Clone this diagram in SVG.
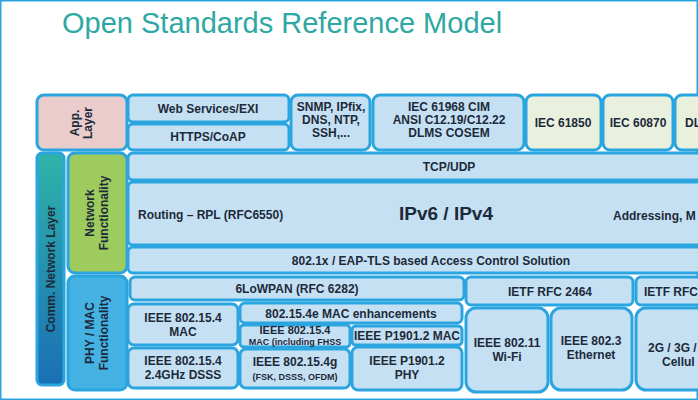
<svg xmlns="http://www.w3.org/2000/svg" width="698" height="400" viewBox="0 0 698 400">
<defs>
<linearGradient id="g1" x1="0" y1="0" x2="0" y2="1"><stop offset="0" stop-color="#2fb3a8"/><stop offset="1" stop-color="#1a6fb5"/></linearGradient>
<style>
rect{stroke:#2aa5df;stroke-width:3}
.b{fill:#c6e0f3}
.t{font-family:"Liberation Sans",Arial,sans-serif;font-weight:bold;fill:#1c2a3a;text-anchor:middle;font-size:12px}
.l{text-anchor:start}
.s{font-size:9px}
.big{font-size:19px}
.m{font-size:11px}
</style>
</defs>
<rect width="698" height="400" fill="#fff" stroke="none"/>
<text x="62" y="33" font-family="'Liberation Sans',Arial,sans-serif" font-size="29" fill="#2ea8a2">Open Standards Reference Model</text>
<g id="app"><rect x="37" y="95" width="90" height="55" rx="7" fill="#e9cccb"/><text class="t" transform="translate(82,123) rotate(-90)"><tspan x="0" y="-3">App.</tspan><tspan x="0" y="10">Layer</tspan></text></g>
<g id="web"><rect class="b" x="128" y="95" width="161" height="27" rx="5"/><text class="t" x="208" y="113">Web Services/EXI</text></g>
<g id="https"><rect class="b" x="128" y="124" width="161" height="26" rx="5"/><text class="t" x="208" y="141">HTTPS/CoAP</text></g>
<g id="snmp"><rect class="b" x="291" y="95" width="79" height="55" rx="7"/><text class="t" x="331" y="111">SNMP, IPfix,<tspan x="331" y="124">DNS, NTP,</tspan><tspan x="331" y="137">SSH,...</tspan></text></g>
<g id="iec61968"><rect class="b" x="373" y="95" width="151" height="55" rx="7"/><text class="t" x="449" y="111">IEC 61968 CIM<tspan x="449" y="124">ANSI C12.19/C12.22</tspan><tspan x="449" y="137">DLMS COSEM</tspan></text></g>
<g id="iec61850"><rect x="526" y="95" width="75" height="55" rx="7" fill="#e9f1de"/><text class="t" x="563" y="127">IEC 61850</text></g>
<g id="iec60870"><rect x="603" y="95" width="70" height="55" rx="7" fill="#e9f1de"/><text class="t" x="638" y="127">IEC 60870</text></g>
<g id="dl"><rect x="675" y="95" width="40" height="55" rx="7" fill="#e9f1de"/><text class="t l" x="685" y="127">DL</text></g>
<g id="comm"><rect x="37" y="153" width="27" height="232" rx="5" fill="url(#g1)"/><text class="t" transform="translate(55,269) rotate(-90)">Comm. Network Layer</text></g>
<g id="netf"><rect x="68" y="153" width="59" height="120" rx="7" fill="#9dcb5e"/><text class="t" transform="translate(97,213) rotate(-90)"><tspan x="0" y="-3">Network</tspan><tspan x="0" y="11">Functionality</tspan></text></g>
<g id="phyf"><rect x="68" y="276" width="59" height="114" rx="7" fill="#45b2e4"/><text class="t" transform="translate(97,333) rotate(-90)"><tspan x="0" y="-3">PHY / MAC</tspan><tspan x="0" y="11">Functionality</tspan></text></g>
<g id="tcp"><rect class="b" x="128" y="153" width="580" height="27" rx="5"/><text class="t" x="449" y="171">TCP/UDP</text></g>
<g id="ip"><rect class="b" x="128" y="182" width="580" height="63" rx="5"/><text class="t l" x="138" y="219">Routing – RPL (RFC6550)</text><text class="t big" x="446" y="220">IPv6 / IPv4</text><text class="t l" x="613" y="220">Addressing, M</text></g>
<g id="eap"><rect class="b" x="128" y="247" width="580" height="26" rx="5"/><text class="t" x="431" y="265">802.1x / EAP-TLS based Access Control Solution</text></g>
<g id="lowpan"><rect class="b" x="130" y="277" width="334" height="23" rx="5"/><text class="t" x="297" y="293">6LoWPAN (RFC 6282)</text></g>
<g id="rfc2464"><rect class="b" x="466" y="277" width="167" height="28" rx="5"/><text class="t" x="550" y="296">IETF RFC 2464</text></g>
<g id="rfcx"><rect class="b" x="636" y="277" width="80" height="28" rx="5"/><text class="t l" x="644" y="296">IETF RFC</text></g>
<g id="mac154"><rect class="b" x="128" y="304" width="110" height="41" rx="6"/><text class="t" x="183" y="322">IEEE 802.15.4<tspan x="183" y="336">MAC</tspan></text></g>
<g id="e"><rect class="b" x="240" y="303" width="222" height="20" rx="5"/><text class="t" x="351" y="318">802.15.4e MAC enhancements</text></g>
<g id="fhss"><rect class="b" x="240" y="325" width="110" height="22" rx="4"/><text class="t m" x="295" y="334">IEEE 802.15.4<tspan class="s" x="295" y="345">MAC (including FHSS</tspan></text></g>
<g id="p1901mac"><rect class="b" x="352" y="326" width="110" height="19" rx="4"/><text class="t" x="407" y="340">IEEE P1901.2 MAC</text></g>
<g id="dsss"><rect class="b" x="128" y="348" width="110" height="40" rx="6"/><text class="t" x="183" y="365">IEEE 802.15.4<tspan x="183" y="379">2.4GHz DSSS</tspan></text></g>
<g id="g154"><rect class="b" x="240" y="349" width="110" height="39" rx="6"/><text class="t" x="295" y="366">IEEE 802.15.4g<tspan class="s" x="295" y="380">(FSK, DSSS, OFDM)</tspan></text></g>
<g id="p1901phy"><rect class="b" x="352" y="347" width="110" height="43" rx="6"/><text class="t" x="407" y="365">IEEE P1901.2<tspan x="407" y="379">PHY</tspan></text></g>
<g id="wifi"><rect class="b" x="466" y="308" width="82" height="84" rx="10"/><text class="t" x="507" y="347">IEEE 802.11<tspan x="507" y="361">Wi-Fi</tspan></text></g>
<g id="eth"><rect class="b" x="551" y="308" width="81" height="82" rx="10"/><text class="t" x="591" y="345">IEEE 802.3<tspan x="591" y="359">Ethernet</tspan></text></g>
<g id="cell"><rect class="b" x="636" y="308" width="80" height="82" rx="10"/><text class="t l" x="648" y="352">2G / 3G /<tspan x="662" y="366">Cellul</tspan></text></g>
<g id="connectors"/>
</svg>
